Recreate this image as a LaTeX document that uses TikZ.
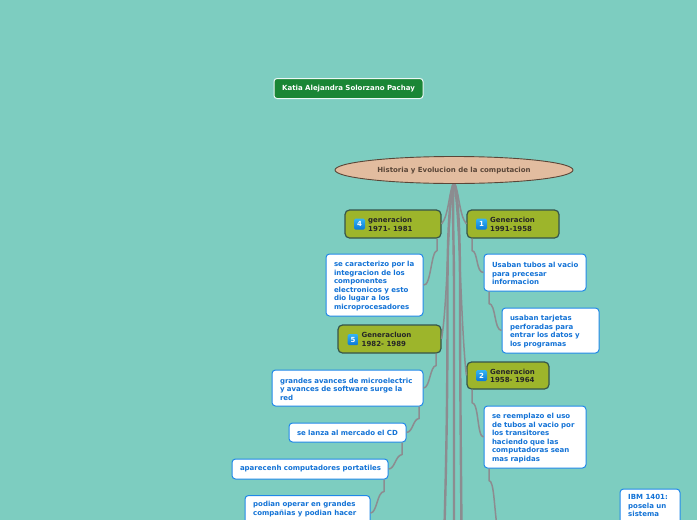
\documentclass[tikz,border=0pt]{standalone}
\usepackage{fontspec}
\setmainfont{DejaVu Sans}
\usetikzlibrary{shapes.geometric}
\definecolor{bgc}{HTML}{7DCDC0}
\definecolor{linkc}{HTML}{8C8C90}
\definecolor{gencol}{HTML}{9DB52B}
\definecolor{genbd}{HTML}{35544A}
\definecolor{txtblue}{HTML}{1272D6}
\definecolor{bdblue}{HTML}{2088E8}
\definecolor{titlec}{HTML}{1A8635}
\definecolor{rootc}{HTML}{E2BC9F}
\definecolor{rootbd}{HTML}{5A4638}
\definecolor{icontop}{HTML}{35B4F4}
\definecolor{iconbot}{HTML}{0A78D8}
\newcommand{\fsz}{\fontsize{7}{8.6}\selectfont\bfseries}
\tikzset{
 link/.style={draw=linkc,line width=2.4pt},
 thinlink/.style={draw=linkc,line width=1.5pt},
 sublink/.style={draw=linkc,line width=1.5pt},
 leaf/.style={draw=bdblue,line width=1pt,fill=white,rounded corners=3.5pt,text=txtblue,font=\fsz,align=left,inner xsep=8pt,inner ysep=0pt,minimum height=#1},
 leaftext/.style={text=txtblue,font=\fsz,align=left,inner sep=0pt,anchor=north west},
 gen/.style={draw=genbd,line width=1.2pt,fill=gencol,rounded corners=4.5pt,inner sep=0pt},
 gentext/.style={font=\fsz,text=black!85,align=left,inner sep=0pt,anchor=west},
 badge/.style={top color=icontop,bottom color=iconbot,rounded corners=1.5pt,minimum size=11pt,inner sep=0pt,text=white,font=\fsz},
}
\begin{document}
\begin{tikzpicture}[x=1pt,y=-1pt]
\useasboundingbox (0,0) rectangle (697,520);
\fill[bgc] (0,0) rectangle (697,520);
\clip (0,0) rectangle (697,520);

\coordinate (d1) at (444.5,526);
\coordinate (d2) at (454,526);
\coordinate (d3) at (461.5,526);
\coordinate (s) at (454,182);

\node[draw=white!85!bgc,line width=1pt,fill=titlec,rounded corners=3pt,text=white,font=\fsz,minimum width=149pt,minimum height=20pt,inner sep=0pt] (title) at (348.5,88.5) {Katia Alejandra Solorzano Pachay};

\node[gen,minimum width=96pt,minimum height=28pt] (g4) at (393,224) {};
\node[gen,minimum width=92pt,minimum height=28pt] (g1) at (513,224) {};
\node[gen,minimum width=103pt,minimum height=28pt] (g5) at (389.5,339) {};
\node[gen,minimum width=82pt,minimum height=27pt] (g2) at (508,375.5) {};

\node[leaf=62pt,text width=81pt] (t4) at (374.5,285) {\rule{0pt}{7.5pt}\mbox{se caracterizo por la}\\integracion de los\\componentes\\electronicos y esto\\dio lugar a los\\\mbox{microprocesadores}};
\node[leaf=37pt,text width=86pt] (t1a) at (535,272.5) {\rule{0pt}{7.5pt}\mbox{Usaban tubos al vacio}\\para precesar\\informacion};
\node[leaf=45pt,text width=81pt] (t1b) at (550.5,330.5) {\rule{0pt}{7.5pt}usaban tarjetas\\perforadas para\\\mbox{entrar los datos y}\\los programas};
\node[leaf=36pt,text width=135pt] (t5a) at (347.5,388) {\rule{0pt}{7.5pt}\mbox{grandes avances de microelectric}\\\mbox{y avances de software surge la}\\red};
\node[leaf=19pt,text width=101pt] (t5b) at (347.5,432.5) {\mbox{se lanza al mercado el CD}};
\node[leaf=20pt,text width=140pt] (t5c) at (310,469) {\mbox{aparecenh computadores portatiles}};
\node[leaf=52pt,minimum width=125pt,anchor=north] (t5d) at (307.5,495) {};
\node[leaftext] (t5dt) at (253,501) {podian operar en grandes\\compañias y podian hacer};
\node[leaf=62pt,text width=86pt] (t2a) at (535,437) {\rule{0pt}{7.5pt}\mbox{se reemplazo el uso}\\\mbox{de tubos al vacio por}\\los transitores\\haciendo que las\\\mbox{computadoras sean}\\mas rapidas};
\node[leaf=60pt,minimum width=60pt,anchor=north] (t2b) at (650,488.5) {};
\node[leaftext] (t2bt) at (628,494) {IBM 1401:\\posela un\\sistema};

\draw[thinlink] (s) .. controls (449,190) and (449,215) .. (g4.east);
\draw[thinlink] (s) .. controls (459,190) and (459,215) .. (g1.west);
\draw[thinlink] (s) .. controls (448,200) and (448,300) .. (g5.east);
\draw[thinlink] (s) .. controls (460,220) and (461,330) .. (g2.west);
\draw[link] (s) .. controls (449,200) and (447.5,240) .. (447.5,290) .. controls (447.5,350) and (447.5,420) .. (d1);
\draw[link] (s) .. controls (452,210) and (454,240) .. (454,290) -- (d2);
\draw[link] (s) .. controls (459,200) and (460,240) .. (460,290) .. controls (460,350) and (460.5,420) .. (d3);

\draw[sublink] ([xshift=44pt]g4.south) -- ++(0,12) .. controls (431,251) and (431,287) .. (t4.east);
\draw[sublink] ([xshift=-41pt]g1.south) -- ++(0,12) .. controls (478,251) and (476,273) .. (t1a.west);
\draw[sublink] ([xshift=-46pt]t1a.south) -- ++(0,12) .. controls (496,304) and (494,330) .. (t1b.west);
\draw[sublink] ([xshift=46.5pt]g5.south) -- ++(0,12) .. controls (430,366) and (430,388) .. (t5a.east);
\draw[sublink] ([xshift=71.5pt]t5a.south) -- ++(0,12) .. controls (413,419) and (413,432) .. (t5b.east);
\draw[sublink] ([xshift=54.5pt]t5b.south) -- ++(0,12) .. controls (395,456) and (395,469) .. (t5c.east);
\draw[sublink] ([xshift=74pt]t5c.south) -- ++(0,12) .. controls (377,492) and (377,513) .. (t5d.east |- 0,513);
\draw[sublink] ([xshift=-36pt]g2.south) -- ++(0,13) .. controls (479,403) and (477,437) .. (t2a.west);
\coordinate (d5) at (497,526);
\draw[sublink] ([xshift=-46pt]t2a.south) -- ++(0,12) .. controls (494,481) and (494,505) .. (d5);

\node[ellipse,draw=rootbd,line width=.9pt,fill=rootc,text=rootbd,font=\fsz,minimum width=238pt,minimum height=27pt,inner sep=0pt] (root) at (454,170) {\rule{0pt}{7pt}Historia y Evolucion de la computacion};

\node[badge] (b4) at (359.5,224) {4};
\node[badge] (b1) at (481.5,224) {1};
\node[badge] (b5) at (353,339.5) {5};
\node[badge] (b2) at (481.5,375.5) {2};
\node[gentext] (l4) at (368,224.5) {generacion\\1971- 1981};
\node[gentext] (l1) at (490,224.5) {Generacion\\1991-1958};
\node[gentext] (l5) at (361.5,339.5) {Generacluon\\1982- 1989};
\node[gentext] (l2) at (490,376) {Generacion\\1958- 1964};
\end{tikzpicture}
\end{document}
